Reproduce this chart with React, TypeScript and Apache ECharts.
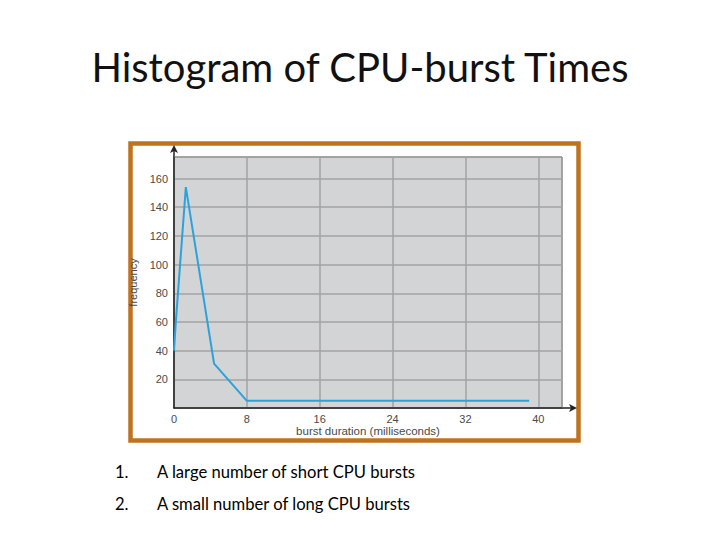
import React, { useEffect, useRef } from "react";
import * as echarts from "echarts";

const titleText = "Histogram of CPU-burst Times";
const xTicks = [0, 8, 16, 24, 32, 40];
const yTicks = [20, 40, 60, 80, 100, 120, 140, 160];
const burstDuration = [0, 0.2, 1.3, 4.4, 8, 39];
const frequency = [40, 60, 154, 31, 5, 5];
const bulletNumbers = ["1.", "2."];
const bulletTexts = ["A large number of short CPU bursts", "A small number of long CPU bursts"];

export default function App() {
  const ref = useRef<HTMLDivElement>(null);
  useEffect(() => {
    if (!ref.current) return;
    const chart = echarts.init(ref.current, undefined, { renderer: "svg" });
    const gridLeft = 174;
    const gridTop = 157;
    const gridRight = 158;
    const gridBottom = 132;
    const labelStyle = { color: "#4a4a4a", fontSize: 11, fontFamily: "Liberation Sans" };
    const bulletGraphics: any[] = [];
    bulletNumbers.forEach((n, i) => {
      bulletGraphics.push({
        type: "text",
        left: 115,
        top: 463 + i * 32,
        style: { text: n, fontSize: 16.6, fontFamily: "Lato", fill: "#000" },
      });
      bulletGraphics.push({
        type: "text",
        left: 157,
        top: 463 + i * 32,
        style: { text: bulletTexts[i], fontSize: 16.6, fontFamily: "Lato", fill: "#000" },
      });
    });
    chart.setOption({
      animation: false,
      backgroundColor: "#ffffff",
      title: {
        text: titleText,
        left: "center",
        top: 42,
        textStyle: { fontFamily: "Lato", fontSize: 40, fontWeight: "normal", color: "#111" },
      },
      grid: {
        left: gridLeft,
        top: gridTop,
        right: gridRight,
        bottom: gridBottom,
        show: true,
        backgroundColor: "#D3D4D6",
        borderColor: "#5a5a5a",
        borderWidth: 1,
      },
      xAxis: {
        type: "value",
        min: 0,
        max: 42.6,
        interval: 8,
        name: "burst duration (milliseconds)",
        nameLocation: "middle",
        nameGap: 16,
        nameTextStyle: { ...labelStyle, fontSize: 11.5 },
        axisLine: {
          show: true,
          lineStyle: { color: "#222", width: 1.5 },
          symbol: ["none", "arrow"],
          symbolSize: [6, 8],
          symbolOffset: [0, 15],
        },
        axisTick: { show: false },
        axisLabel: { ...labelStyle, margin: 5, showMaxLabel: false },
        splitLine: { show: true, lineStyle: { color: "#A3A3A3", width: 1.5 } },
      },
      yAxis: {
        type: "value",
        min: 0,
        max: 175,
        interval: 20,
        name: "frequency",
        nameLocation: "middle",
        nameGap: 34,
        nameRotate: 90,
        nameTextStyle: labelStyle,
        axisLine: {
          show: true,
          lineStyle: { color: "#222", width: 1.5 },
          symbol: ["none", "arrow"],
          symbolSize: [6, 8],
          symbolOffset: [0, 12],
        },
        axisTick: { show: false },
        axisLabel: {
          ...labelStyle,
          margin: 6,
          showMinLabel: false,
          showMaxLabel: false,
        },
        splitLine: { show: true, lineStyle: { color: "#A3A3A3", width: 1.5 } },
      },
      series: [
        {
          type: "line",
          data: burstDuration.map((x, i) => [x, frequency[i]]),
          symbol: "none",
          lineStyle: { color: "#2BA3DA", width: 2 },
        },
      ],
      graphic: [
        {
          type: "rect",
          shape: { x: 130.5, y: 143.5, width: 448, height: 297 },
          style: { fill: "none", stroke: "#BF731F", lineWidth: 4.5 },
          z: -1,
        },
        {
          type: "line",
          shape: { x1: gridLeft, y1: gridTop, x2: gridLeft, y2: 147 },
          style: { stroke: "#222", lineWidth: 1.5 },
        },
        {
          type: "line",
          shape: { x1: 720 - gridRight, y1: 540 - gridBottom, x2: 574, y2: 540 - gridBottom },
          style: { stroke: "#222", lineWidth: 1.5 },
        },
        ...bulletGraphics,
      ],
    });
    return () => chart.dispose();
  }, []);
  return <div ref={ref} style={{ position: "fixed", left: 0, top: 0, width: 720, height: 540 }} />;
}
